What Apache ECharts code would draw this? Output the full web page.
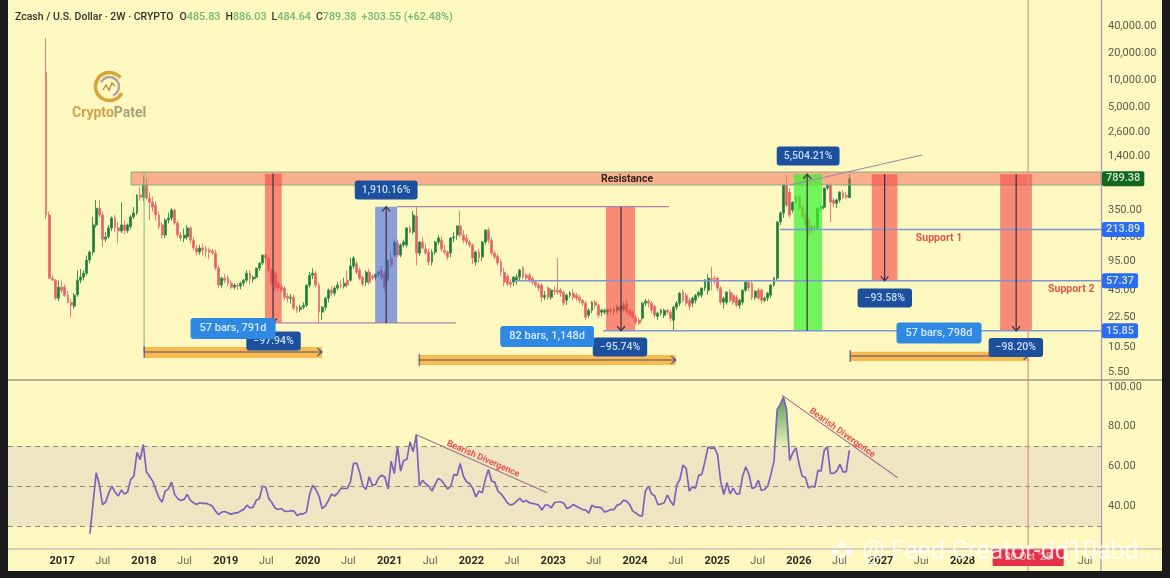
<!DOCTYPE html>
<html><head><meta charset="utf-8">
<style>html,body{margin:0;padding:0;background:#1a1a1c}#c{width:1170px;height:578px}</style>
<script src="https://cdn.jsdelivr.net/npm/echarts@6/dist/echarts.min.js"></script>
</head><body><div id="c"></div>
<script>
// ---- candles, rows are [open, high, low, close], one row per 2-week bar
const ohlc2017 = [
[12270,29400,280,311],[311,340,60,61.4],[61.4,66,57,58.3],[58.3,60,35,36.7],[36.7,58,34,48.7],[48.7,58,42,45],[48.7,52,38,39.6],[39.6,44,32,33.1],
[33.1,36,22.5,30.6],[29.9,42,28,39.6],[40,75,38,58.3],[58.3,78,54,63],[63,75,58,69.8],[69.8,110,66,97.6],[97.6,125,90,120],[120,296,110,241],
[241,456,225,370],[370,456,290,311],[311,340,137,167],[167,200,155,177],[177,240,170,223],[223,300,205,288],[288,310,200,223],[223,260,150,206],
[206,430,195,241],[241,270,190,211],[208,250,195,241],[230,310,215,296],[296,380,280,328],[328,530,310,518],[518,640,450,492],[492,850,440,672]];
const ohlc2018 = [
[672,803,460,480],[480,560,273,433],[433,500,340,380],[400,440,270,311],[311,340,215,229],[241,260,170,186],[186,285,172,273],[273,330,250,288],
[288,370,270,353],[353,365,240,253],[253,270,175,186],[186,200,160,172],[172,220,155,186],[177,240,165,223],[223,235,150,163],[163,175,125,133],
[133,145,110,120],[120,145,112,133],[133,150,110,126],[130,140,105,123],[126,135,100,120],[123,130,112,117],[117,128,75,79.4],[79.4,85,47,51.3],
[51.3,64,48,61.4],[61.4,68,54,58.3],[61.4,66,50,54],[54,58,46,48.7],[48.7,54,46,51.3],[51.3,54,45,50],[50,56,46,54],[54,60,50,58.3],
[58.3,75,55,69.8],[69.8,75,52,59.9],[59.9,66,55,63],[63,80,60,79.4],[79.4,92,74,90.3],[90.3,112,86,111],[111,116,90,103],[103,108,70,75.4]];
const ohlc2019 = [
[75.4,80,50,54],[69.8,75,44,47.5],[54,56,44,47.5],[48.7,52,42,45],[47.5,50,35,37.6],[38.6,42,33,36.7],[36.7,41,32,37.6],[37.6,40,27,28.4],
[29.1,30,25,26.9],[27.5,31,25.6,29.1],[29.1,33,27.5,30.6],[30.6,52,29,51.3],[51.3,72,48,66.3],[66.3,79,60,69.8],[69.8,74,48,51.3],[51.3,55,19.3,25.6],
[25.6,30,21,29.1],[29.1,38,27,36.7],[36.7,47,33,45],[45,50,39,41.7],[41.7,50,39,47.5],[47.5,56,45,51.3],[51.3,58,47,50],[50,62,47,54],
[58.3,75,48,51.3],[58.3,103,56,83.6],[83.6,108,78,103]];
const ohlc2020 = [
[89,95,68,71.6],[75.4,80,58,61.4],[63,66,50,52.6],[55.4,75,50,71.6],[71.6,78,52,55.4],[64.6,68,58,61.4],[63,68,58,68],[68,74,64,71.6],
[75.4,84,58,61.4],[69.8,74,44,48.7],[59.9,98,56,97.6],[103,120,80,85.8],[111,165,105,155],[151,165,105,111],[111,150,105,144],[144,165,135,155],
[144,228,135,223],[223,240,195,201],[201,345,190,311],[304,385,85,117]];
const ohlc2021 = [
[117,160,108,155],[155,175,128,133],[130,150,112,117],[120,130,85,92.7],[92.7,128,85,120],[120,160,112,155],[155,185,145,172],[163,180,120,130],
[126,145,112,120],[120,125,98,106],[117,175,105,172],[172,200,155,177],[186,238,165,235],[235,345,175,186],[186,210,150,163],[172,190,145,155],
[155,165,135,144],[144,150,88,103],[92.7,125,85,120],[120,130,92,103],[106,160,95,155],[155,215,145,211],[211,225,150,163],[163,175,110,117],
[117,125,100,106],[108,115,85,90.3],[92.7,100,65,71.6],[71.6,80,50,55.4]];
const ohlc2022 = [
[64.6,68,50,52.6],[55.4,60,48,52.6],[55.4,65,50,63],[57,68,52,63],[63,78,58,75.4],[79.4,84,60,63],[66.3,70,58,61.4],[66.3,70,55,58.3],
[61,64,52,55.4],[55.4,58,48,51.3],[51.3,54,44,47.5],[51.3,54,33,37.6],[37.6,44,35,39.6],[47.5,50,35,37.6],[37.6,47,35,45],[45,50,40,43.9],
[45,103,40,42.8],[45,48,38,41.7],[42.8,44,30,32.3],[34.8,41,31,39.6],[39.6,44,37,41.7],[41.7,46,35,37.6],[39.6,42,34,36.7],[37.6,40,32,34.8],
[34.8,36,30,32.3],[32.3,34,21,22.5],[23.7,28,22,26.9],[26.9,34,25,33.1],[33.1,35,28,30.6]];
const ohlc2023 = [
[30.6,32,22,23.7],[25.6,28,23,26.9],[25.6,28,24,26.9],[25.6,28,24,27.5],[27.5,29,24,26.2],[26.2,29,24,27.5],[26.9,31,25,29.1],[27.5,31,25.5,29.1],
[27.5,33,26,30.6],[32.3,36,24,25.6],[26.9,28,23,24.3],[25.6,27,21.5,22.5],[22.5,24,18.5,19.8],[20.8,22,18.5,19.3],[21.9,33.5,20.5,32.3],[32.3,36,30,34],
[34,36,29,32.3],[32.3,34,25,26.9],[29.9,31,22,23.7],[23,26,21,25],[25,28,23.5,26.9],[23.7,28,22,26.9],[26.9,28,24,25.6],[25.6,27,20,21.9],
[20.8,30,16,29.1]];
const ohlc2024 = [
[29.1,34,27,32.3],[32.3,43,30,41.7],[42.8,46,33,34.8],[39.6,42,30,32.3],[34.8,37,27,29.9],[32.3,38,29,36.7],[34.8,41,32,39.6],[39.6,44,37,42.8],
[39.6,48,37,47.5],[47.5,60,44,58.3],[45,68,40,61.4],[61.4,82,45,58.3],[61.4,66,52,59.9],[61.4,64,44,47.5],[47.5,50,31,33.1],[33.1,38,28,36.7],
[33.1,44,31,42.8],[42.8,46,33,34.8],[39.6,42,31,33.1],[37.6,40,29,30.6],[30.6,36,28,34.8],[33.1,46,31,45],[45,57,43,55.4],[55.4,58,44,47.5],
[54,56,35,37.6],[37.6,45,35,43.9],[45,48,35,36.7],[45,47,32,34.8],[34.8,38,33,36.7],[36.7,43,34,41.7],[39.6,53,37,51.3],[51.3,63,49,61.4]];
const ohlc2025 = [
[61.4,265,58,260],[260,340,240,328],[328,680,290,672],[672,870,380,400],[561,620,290,311],[353,440,330,433],[433,510,410,492],[492,510,350,370],
[380,400,280,296],[311,330,230,241],[273,290,180,196],[211,240,195,229],[229,250,205,223],[223,375,215,370],[370,400,340,390],[380,630,360,622],
[622,690,590,672],[672,700,260,433],[456,480,380,420],[420,470,370,456],[456,570,430,561],[550,590,470,492],[518,560,470,492],[485.83,886.03,484.64,789.38]];

// ---- RSI, first reading is the 15th bar
const rsiFirstBar = 14;
const rsiValues = [
26,41.6,56.7,50.8,40.7,42,46.6,50,47,45,48,46,47,53.4,55,67,63.4,71,57.2,55,52.5,48.3,44,42,47.5,48.6,52,45.8,43.6,42.8,43.3,45.8,42.8,41.6,40.7,41.6,
41.3,41.3,40.7,40,37.4,35.7,36.9,37.2,36.4,35.9,36.4,36.5,37.4,38.2,40.4,39,39.4,42.8,43.8,50,49.5,43.8,41.6,39,38.2,38.7,37.4,37.2,37.6,37.4,35.2,36,36,37,
45.8,50.5,48.3,45,38.6,40,42.8,46,45,46.6,49,48.8,48.8,52,61.4,61.6,56.7,50,48.3,54.7,50.5,50.8,54.2,55.5,54.5,48.6,62.6,56.4,70,57.6,63,63.4,72.4,67.3,76,
50,52.9,51.2,50,47.5,50.8,53.9,52.9,50.8,48.6,50,55.9,55.4,61.4,55,52.2,51.2,48.8,44.6,47.5,46.6,53.4,58.4,52.5,52,47.5,46.1,44,41.6,40.4,41,42.4,43.8,42,
42.8,41.6,41.3,41,40.4,38,40.4,40.4,39,41.6,42,42,41.4,38.7,39.4,40.7,39.9,39,38.2,37.9,36.4,40.4,39.4,39.4,39,37,37.4,38.2,38.2,40.4,41,42.8,42.4,40.7,37.4,
36.5,35.2,34.9,47.5,50,46.1,45,40.7,41,41.6,45.5,42.4,40.2,50.5,53.4,60.6,58.9,47.5,49.7,49,55.4,55.9,62.6,69.7,69,69.3,66,52.5,45.8,51.7,46.1,49,46.1,46.1,
55,59.7,55.9,48.8,49.5,53,47.8,48.3,50,55.9,62.6,88.7,91.2,94.9,88.7,63,66.8,69.3,61,55,54.5,49,50,49.5,57.9,57.6,68,69.8,56.4,56.4,57.6,61,57.2,57.2,68];
const rsiOverbought = [70,88.7,91.2,94.9,88.7,70]; // the stretch above 70, with its edges on the 70 line
const rsiOverboughtFirstBar = 232;

// ---- axes
const priceTicks = [40000,20000,10000,5000,2600,1400,700,350,175,95,45,22.5,10.5,5.5];
const rsiTicks = [40,60,80,100];
const rsiLevels = [70,50,30];
const timeTicks = ['2017-01-01','2017-07-01','2018-01-01','2018-07-01','2019-01-01','2019-07-01','2020-01-01','2020-07-01','2021-01-01','2021-07-01','2022-01-01','2022-07-01','2023-01-01','2023-07-01','2024-01-01','2024-07-01','2025-01-01','2025-07-01','2026-01-01','2026-07-01','2027-01-01','2027-07-01','2028-01-01','2028-07-01','2029-01-01','2029-07-01'];

// ---- drawn annotations, in decimal years and prices
const resistanceBand = [[2017.843,938,2029.69,672]];
const zoneRed   = [[2019.48,900,2019.684,19.4],[2023.645,385,2024,15.85],[2026.891,888,2027.204,57.37],[2028.459,888,2028.846,15.85]];
const zoneBlue  = [[2020.824,385,2021.092,19.4]];
const zoneGreen = [[2025.938,888,2026.284,15.85]];
const spanBands = [[2018.002,10.45,2020.176,7.88],[2021.361,8.51,2024.497,6.59],[2026.626,9.27,2028.8,7.3]];
const spanArrows = [[2018.002,9.2,2020.176,9.2],[2021.361,7.49,2024.497,7.49],[2026.626,8.3,2028.8,8.3]];
const moveArrows = [[2019.578,900,2019.578,19.4],[2020.958,19.4,2020.958,385],[2023.829,385,2023.829,15.85],[2026.101,15.85,2026.101,888],[2027.048,888,2027.048,57.37],[2028.654,888,2028.654,15.85]];
const purpleLines = [[2019.578,19.4,2021.813,19.4],[2021.092,385,2024.415,385],[2025.893,672,2027.506,1453]];
const supportLines = [[2022.534,57.37,2029.69,57.37],[2025.771,213.89,2029.69,213.89],[2023.609,15.85,2029.69,15.85]];
const anchorLine = [[2018.002,938,2018.002,9.2]];
const eventDate = 2028.8;
const chipsLight = [[2019.089,16.8,'57 bars, 791d'],[2022.925,13.7,'82 bars, 1,148d'],[2027.713,15,'57 bars, 798d']];
const chipsDark = [[2019.584,12.2,'\u221297.94%'],[2020.958,591,'1,910.16%'],[2023.816,10.45,'\u221295.74%'],[2026.113,1416,'5,504.21%'],[2027.05,36.8,'\u221293.58%'],[2028.65,10.3,'\u221298.20%']];
const supportNotes = [[2027.713,172,'Support 1'],[2029.326,46.4,'Support 2']];
const resistanceNote = [[2023.902,784,'Resistance']];
const priceTags = [[789.38,'789.38','#12681e'],[213.89,'213.89','#2b6cf0'],[57.37,'57.37','#2b6cf0'],[15.85,'15.85','#2b6cf0']];
const rsiTrends = [[2021.32,76,2022.925,46.6],[2025.793,95.9,2027.206,54.2]];
const rsiNotes = [[2022.143,63.7,'Bearish Divergence',-0.416],[2026.528,76.8,'Bearish Divergence',-0.62]];

// ---- helpers
const yr = y => { const f = Math.floor(y), a = Date.UTC(f,0,1), b = Date.UTC(f+1,0,1); return a + (y-f)*(b-a); };
const DAY = 86400000, firstBar = Date.UTC(2016,9,21);
const barTime = i => firstBar + i*14*DAY;
const candles = [].concat(ohlc2017,ohlc2018,ohlc2019,ohlc2020,ohlc2021,ohlc2022,ohlc2023,ohlc2024,ohlc2025)
  .map((r,i)=>[barTime(i),r[0],r[3],r[2],r[1]]);
const rsiLine = rsiValues.map((v,i)=>[barTime(i+rsiFirstBar),v]);
const overArea = rsiOverbought.map((v,i)=>[barTime(i+rsiOverboughtFirstBar),v]);
const xMin = yr(2016.34), xMax = yr(2029.69);
const fmt = v => v.toLocaleString('en-US',{minimumFractionDigits:2,maximumFractionDigits:2});
const FONT = 'Roboto, Inter, sans-serif';
const two = rows => rows.map(r=>[yr(r[0]),r[1],yr(r[2]),r[3]]);

function boxSeries(rows, fill, stroke, z, grid){
  return {type:'custom',xAxisIndex:grid||0,yAxisIndex:grid||0,z,silent:true,clip:false,data:two(rows),encode:{x:[0,2],y:[1,3]},
    renderItem(p,api){const a=api.coord([api.value(0),api.value(1)]),b=api.coord([api.value(2),api.value(3)]);
      return {type:'rect',shape:{x:a[0],y:a[1],width:b[0]-a[0],height:b[1]-a[1]},style:{fill,stroke:stroke||null,lineWidth:stroke?1:0}};}};
}
function lineSeries(rows,stroke,w,z,grid,opt){
  opt=opt||{};
  return {type:'custom',xAxisIndex:grid||0,yAxisIndex:grid||0,z,silent:true,clip:false,data:two(rows),encode:{x:[0,2],y:[1,3]},
    renderItem(p,api){const a=api.coord([api.value(0),api.value(1)]),b=api.coord([api.value(2),api.value(3)]);
      const style={stroke,lineWidth:w,fill:null};
      const kids=[{type:'line',shape:{x1:a[0],y1:a[1],x2:b[0],y2:b[1]},style}];
      if(opt.arrow){const t=Math.atan2(b[1]-a[1],b[0]-a[0]),L=6;
        kids.push({type:'polyline',shape:{points:[[b[0]-L*Math.cos(t-0.7),b[1]-L*Math.sin(t-0.7)],[b[0],b[1]],[b[0]-L*Math.cos(t+0.7),b[1]-L*Math.sin(t+0.7)]]},style});
      }
      if(opt.cap){kids.push({type:'line',shape:{x1:a[0],y1:a[1]-6,x2:a[0],y2:a[1]+6},style});}
      return {type:'group',children:kids};}};
}
function textSeries(rows,style,z,grid){
  return {type:'custom',xAxisIndex:grid||0,yAxisIndex:grid||0,z,silent:true,clip:false,data:rows.map(r=>[yr(r[0]),r[1]]),encode:{x:0,y:1},
    renderItem(p,api){const a=api.coord([api.value(0),api.value(1)]),r=rows[p.dataIndex];
      return {type:'text',x:a[0],y:a[1],rotation:r[3]||0,style:Object.assign({text:r[2],align:'center',verticalAlign:'middle'},style)};}};
}

const chart = echarts.init(document.getElementById('c'),null,{renderer:'canvas',width:1170,height:578});
const bg='#fdf8c0';
const option = {
  animation:false, backgroundColor:'#1a1a1c',
  textStyle:{fontFamily:FONT},
  title:{left:15,top:8,padding:0,
    text:'{n|Zcash / U.S. Dollar \u00b7 2W \u00b7 CRYPTO}{g|}{n|O}{v|485.83}{s|}{n|H}{v|886.03}{s|}{n|L}{v|484.64}{s|}{n|C}{v|789.38}{s|}{v|+303.55 (+62.48%)}',
    textStyle:{rich:{n:{color:'#34342c',fontSize:10.5,fontWeight:500,fontFamily:FONT},v:{color:'#74b874',fontSize:10.8,fontWeight:500,fontFamily:FONT},g:{width:6},s:{width:5}}}},
  grid:[{left:8,top:0,width:1093,height:380,show:false},{left:8,top:380,width:1093,height:169,show:false}],
  xAxis:[
    {type:'value',gridIndex:0,min:xMin,max:xMax,axisLine:{show:false},axisTick:{show:false},axisLabel:{show:false},splitLine:{show:false}},
    {type:'value',gridIndex:1,min:xMin,max:xMax,axisLine:{show:false},axisTick:{show:false},splitLine:{show:false},
      axisLabel:{margin:7,hideOverlap:false,customValues:timeTicks.map(s=>new Date(s+'T00:00:00Z').getTime()),
        formatter:v=>{const d=new Date(+v);return d.getUTCMonth()===0?'{y|'+d.getUTCFullYear()+'}':'{m|Jul}';},
        rich:{y:{fontSize:11,fontWeight:700,color:'#2a2a22',fontFamily:FONT},m:{fontSize:11,color:'#6b6b58',fontFamily:FONT}}}}
  ],
  yAxis:[
    {type:'log',gridIndex:0,position:'right',logBase:10,min:4.48,max:78000,
      axisLine:{show:true,onZero:false,lineStyle:{color:'#a98fc8',width:1.2}},axisTick:{show:false},splitLine:{show:false},
      axisLabel:{color:'#5c5c4a',fontSize:11,margin:7,hideOverlap:false,customValues:priceTicks,formatter:v=>fmt(+v)}},
    {type:'value',gridIndex:1,position:'right',min:18.3,max:103.5,
      axisLine:{show:true,onZero:false,lineStyle:{color:'#a98fc8',width:1.2}},axisTick:{show:false},splitLine:{show:false},
      axisLabel:{color:'#5c5c4a',fontSize:11,margin:7,hideOverlap:false,customValues:rsiTicks,formatter:v=>fmt(+v)}}
  ],
  series:[
    {type:'candlestick',xAxisIndex:0,yAxisIndex:0,z:2,barWidth:2.4,data:candles,encode:{x:0,y:[1,2,3,4]},silent:true,
      itemStyle:{color:'#1f7a34',color0:'#e2605e',borderColor:'#3f9450',borderColor0:'#e87e78',borderWidth:1}},
    boxSeries(resistanceBand,'rgba(247,105,85,0.5)','#86a987',3),
    boxSeries(zoneRed,'rgba(246,72,72,0.62)',null,4),
    boxSeries(zoneBlue,'rgba(64,98,232,0.6)',null,4),
    boxSeries(zoneGreen,'rgba(60,244,50,0.72)',null,4),
    boxSeries(spanBands,'#f9ba4c',null,5),
    lineSeries(purpleLines,'#a783ad',1.2,6),
    lineSeries(supportLines,'#7f96d6',1.5,6),
    lineSeries(anchorLine,'#8cbb8a',1.1,6),
    lineSeries(spanArrows,'#4a4a8c',1.1,7,0,{arrow:true,cap:true}),
    lineSeries(moveArrows,'#3a3040',1.2,7,0,{arrow:true}),
    textSeries(resistanceNote,{font:'700 10.5px '+FONT,fill:'#2c2520'},8),
    textSeries(supportNotes,{font:'700 10.5px '+FONT,fill:'#e2554f'},8),
    textSeries(chipsDark,{font:'500 10.5px '+FONT,fill:'#c8dcfa',backgroundColor:'#1c4f9c',padding:[4,7],borderRadius:3},9),
    textSeries(chipsLight,{font:'500 11px '+FONT,fill:'#d6ebff',backgroundColor:'#2f88e2',padding:[5,9],borderRadius:3},10),
    {type:'custom',xAxisIndex:0,yAxisIndex:0,z:11,silent:true,clip:false,data:priceTags.map(r=>[xMax,r[0]]),encode:{x:0,y:1},
      renderItem(p,api){const a=api.coord([api.value(0),api.value(1)]),r=priceTags[p.dataIndex];
        return {type:'text',x:a[0]+1,y:a[1],style:{text:r[1],align:'left',verticalAlign:'middle',font:'500 11px '+FONT,fill:'#cfe6d4',backgroundColor:r[2],padding:[2,4],borderRadius:2}};}},
    lineSeries([[eventDate,78000,eventDate,4.48]],'#e58f86',1.2,6),
    // RSI pane
    {type:'line',xAxisIndex:1,yAxisIndex:1,z:3,data:rsiLine,showSymbol:false,symbol:'none',silent:true,
      lineStyle:{color:'#7c62bd',width:1.7},
      markArea:{silent:true,itemStyle:{color:'#f0e5c2'},data:[[{yAxis:30},{yAxis:70}]],z:1},
      markLine:{silent:true,symbol:'none',label:{show:false},lineStyle:{color:'#8a8a78',type:[5,4],width:1},data:rsiLevels.map(v=>({yAxis:v}))}},
    {type:'custom',xAxisIndex:1,yAxisIndex:1,z:2,silent:true,clip:true,data:overArea,encode:{x:0,y:1},
      renderItem(p,api){ if(p.dataIndex!==0) return null;
        const pts=overArea.map(d=>api.coord(d));
        return {type:'polygon',shape:{points:pts},style:{fill:new echarts.graphic.LinearGradient(0,0,0,1,[{offset:0,color:'#5a9f5c'},{offset:1,color:'#e8f0b4'}])}};}},
    lineSeries(rsiTrends,'#a2708f',1.1,6,1),
    textSeries(rsiNotes,{font:'700 9px '+FONT,fill:'#e2554f'},8,1),
    lineSeries([[eventDate,103.5,eventDate,7.2]],'#e58f86',1.2,6,1),
    lineSeries([[2029.69,18.3,2029.69,7.2]],'#a98fc8',1.2,6,1),
    textSeries([[eventDate,14,"20 Oct '28"]],{font:'500 10.5px '+FONT,fill:'#f0a8a8',backgroundColor:'#e6304a',padding:[3,12],borderRadius:1},9,1)
  ],
  graphic:[
    {type:'rect',z:-10,silent:true,shape:{x:8,y:0,width:1154,height:571},style:{fill:bg}},
    {type:'line',z:20,silent:true,shape:{x1:8,y1:380,x2:1162,y2:380},style:{stroke:'#9c9c84',lineWidth:1.3}},
    {type:'line',z:20,silent:true,shape:{x1:8,y1:549,x2:1162,y2:549},style:{stroke:'#bfa0b8',lineWidth:1}},
    {type:'arc',z:20,silent:true,shape:{cx:109.5,cy:86.5,r:14,startAngle:0.5,endAngle:5.6},style:{stroke:'#d9a43f',lineWidth:3.6,fill:null}},
    {type:'arc',z:20,silent:true,shape:{cx:109.5,cy:86.5,r:9.5,startAngle:3.6,endAngle:1.2},style:{stroke:'#a9a9a0',lineWidth:2.6,fill:null}},
    {type:'polyline',z:20,silent:true,shape:{points:[[103,90],[106,85],[109,90],[112,83],[115,86]]},style:{stroke:'#b58a3a',lineWidth:1.3,fill:null}},
    {type:'text',z:20,silent:true,x:72,y:106,style:{text:'{a|Crypto}{b|Patel}',rich:{a:{fill:'#d0a24e',font:'700 14px '+FONT},b:{fill:'#a9a27a',font:'700 14px '+FONT}}}},
    {type:'group',z:30,silent:true,x:842,y:552,children:[
      {type:'polygon',shape:{points:[[0,-12],[5,-7],[0,-2],[-5,-7]]},style:{fill:'rgba(255,255,255,.85)'}},
      {type:'polygon',shape:{points:[[-7,-5],[-2,0],[-7,5],[-12,0]]},style:{fill:'rgba(255,255,255,.85)'}},
      {type:'polygon',shape:{points:[[7,-5],[12,0],[7,5],[2,0]]},style:{fill:'rgba(255,255,255,.85)'}},
      {type:'polygon',shape:{points:[[0,2],[5,7],[0,12],[-5,7]]},style:{fill:'rgba(255,255,255,.85)'}}]},
    {type:'text',z:30,silent:true,x:862,y:540,style:{text:'@ Feed-Creator-dd10abd...',font:'400 25px '+FONT,fill:'rgba(255,255,255,.78)'}}
  ]
};
chart.setOption(option);
</script></body></html>
